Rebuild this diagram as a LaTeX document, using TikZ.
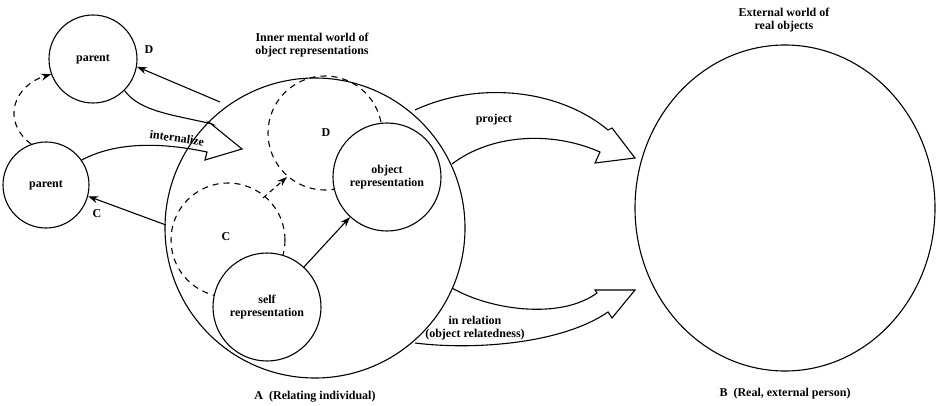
\documentclass[tikz,border=0pt]{standalone}
\usepackage{fontspec}
\setmainfont{Liberation Serif}
\usetikzlibrary{arrows.meta,shapes.geometric}
\begin{document}
\begin{tikzpicture}[x=1pt,y=-1pt,line width=1.1pt,
  circ/.style={draw,circle,inner sep=0pt,align=center,font=\fontsize{12}{13.5}\selectfont\bfseries},
  dcirc/.style={draw,circle,dashed,dash pattern=on 6pt off 5pt,inner sep=0pt},
  lbl/.style={font=\fontsize{12}{13.5}\selectfont\bfseries,align=center},
  arr/.style={-{Stealth[length=10pt,width=7pt]}},
  hollow/.style={line width=1.1pt,line join=miter}]
\useasboundingbox (0,0) rectangle (936,406);
% circles
\node[dcirc,minimum size=114pt] (dD) at (325,133) {};
\node[dcirc,minimum size=114pt] (dC) at (228,240) {};
\node[circ,minimum size=300pt] (A) at (315,228) {};
\node[draw,ellipse,minimum width=300pt,minimum height=326pt,inner sep=0pt] (B) at (785,208) {};
\node[circ,minimum size=88pt] (p1) at (93,59) {parent};
\node[circ,minimum size=86pt] (p2) at (46,185) {parent};
\node[circ,minimum size=108pt,fill=white] (obj) at (387,177) {object\\representation};
\node[circ,minimum size=108pt,fill=white] (self) at (267,307) {self\\representation};
% labels
\node[lbl] (tA) at (312,45) {Inner mental world of\\object representations};
\node[lbl] (tB) at (784,20) {External world of\\real objects};
\node[lbl] (bA) at (315,397) {A\ \ (Relating individual)};
\node[lbl] (bB) at (785,394) {B\ \ (Real, external person)};
\node[lbl] (lD) at (149,50) {D};
\node[lbl] (lC) at (97,214) {C};
\node[lbl] (iD) at (326,133) {D};
\node[lbl] (iC) at (226,237) {C};
% arrows
\draw[arr] (220,102) -- (p1.-10);
\draw[arr] (166,225) -- (p2.-15);
\draw[arr] (self) -- (obj);
\coordinate (ds) at (263,198);
\draw[arr,dashed,dash pattern=on 5pt off 4pt] (ds) -- (287,177);
\draw[arr,dashed,dash pattern=on 6pt off 5pt] (p2.110) .. controls (0,120) and (15,85) .. (p1.200);
% hollow arrows
\draw[hollow] (p1.-45) .. controls (140,112) and (175,115) .. (212,124)
  -- (210,123) -- (242,149) -- (205,160) -- (207,152)
  .. controls (150,140) and (110,145) .. (p2.35);
\node[lbl,rotate=-8] (lint) at (177,138) {internalize};
\draw[hollow] (415,110) .. controls (480,80) and (560,90) .. (608,130)
  -- (612,128) -- (635,158) -- (595,163) -- (600,152)
  .. controls (550,130) and (490,135) .. (452,164);
\node[lbl] (lproj) at (494,120) {project};
\draw[hollow] (452,288) .. controls (490,310) and (560,320) .. (597,293)
  -- (595,290) -- (635,290) -- (612,318) -- (608,312)
  .. controls (560,345) and (470,350) .. (415,343);
\node[lbl] (lrel) at (475,328) {in relation\\(object relatedness)};
\end{tikzpicture}
\end{document}
